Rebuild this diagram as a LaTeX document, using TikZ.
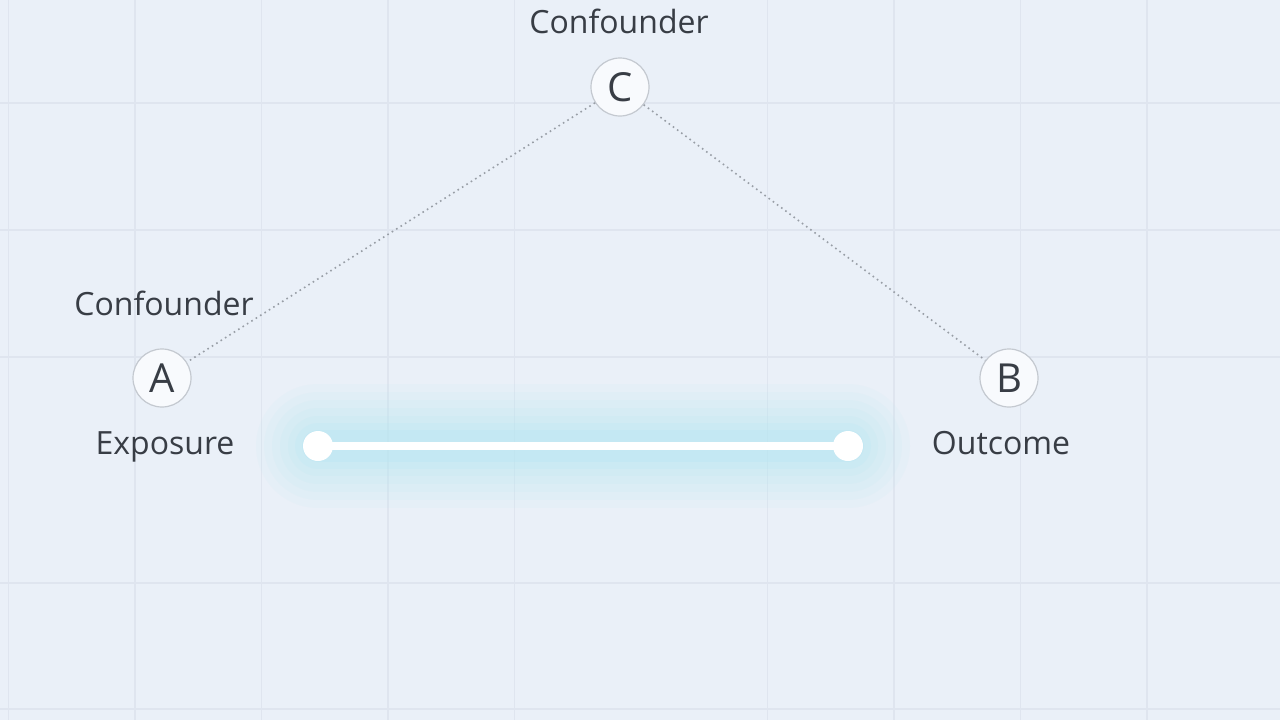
\documentclass[tikz,border=0pt]{standalone}
\usepackage{fontspec}
\setmainfont{Open Sans}
\definecolor{bg}{HTML}{EAF0F8}
\definecolor{gridc}{HTML}{DFE5EF}
\definecolor{txt}{HTML}{383D45}
\definecolor{ring}{HTML}{C4C9D0}
\definecolor{dotc}{HTML}{989EA6}
\definecolor{glowc}{HTML}{B5E6F3}
\begin{document}
\begin{tikzpicture}[x=1pt,y=-1pt,
  lbl/.style={text=txt,font=\fontsize{32}{38}\selectfont,text height=23pt,text depth=7pt},
  vnode/.style={circle,draw=ring,line width=1.2pt,fill=white!65!bg,minimum size=58pt,inner sep=0pt,text=txt,font=\fontsize{40}{44}\selectfont},
  dotline/.style={dotc,line width=1.6pt,dash pattern=on 1.6pt off 3.6pt},
  gline/.style={gridc,line width=1.8pt},
  endpt/.style={circle,fill=white,minimum size=30pt,inner sep=0pt},
  barline/.style={white,line width=8pt}
]
\fill[bg] (0,0) rectangle (1280,720);
\useasboundingbox (0,0) rectangle (1280,720);
% grid
\foreach \gx in {8.5,135,261.5,388,514.5,767.5,894,1020.5,1147}
  \draw[gline] (\gx,0) -- (\gx,720);
\foreach \gy in {103,230,357,583,709}
  \draw[gline] (0,\gy) -- (1280,\gy);
% glow
\coordinate (g1) at (318,446);
\coordinate (g2) at (848,446);
\foreach \w/\o in {124/0.08,108/0.09,92/0.10,76/0.12,60/0.15,46/0.2,32/0.28}
  \draw[glowc,line width=\w pt,line cap=round,opacity=\o] (g1) -- (g2);
% nodes
\node[vnode] (C) at (620,87) {C};
\node[vnode] (A) at (162,378) {A};
\node[vnode] (B) at (1009,378) {B};
\node[lbl] (lc) at (619,25) {Confounder};
\node[lbl] (la) at (164,307) {Confounder};
\node[lbl] (lexp) at (165,446) {Exposure};
\node[lbl] (lout) at (1001,446) {Outcome};
% dotted connectors
\draw[dotline] (C) -- (A);
\draw[dotline] (C) -- (B);
% bar
\node[endpt] (e1) at (g1) {};
\node[endpt] (e2) at (g2) {};
\draw[barline] (e1.center) -- (e2.center);
\end{tikzpicture}
\end{document}
